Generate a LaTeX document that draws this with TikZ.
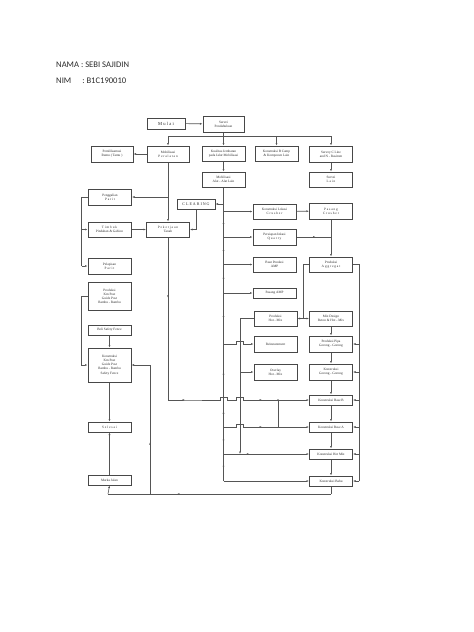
\documentclass[tikz,border=0pt]{standalone}
\usepackage{fontspec}
\setmainfont{Liberation Serif}
\newfontfamily\hdrfont{Carlito}
\usetikzlibrary{arrows.meta,decorations.markings}
\definecolor{boxc}{HTML}{484848}
\definecolor{linec}{HTML}{555555}
\definecolor{txtc}{HTML}{2A2A2A}
\begin{document}
\begin{tikzpicture}[x=1pt,y=-1pt,
  box/.style={draw=boxc, line width=1pt, fill=white, inner sep=0pt, align=center,
    minimum width=43pt, minimum height=15pt, font=\fontsize{3.4}{4.1}\selectfont, text=txtc},
  sbox/.style={box, minimum height=10pt},
  ln/.style={draw=linec, line width=0.6pt},
  arr/.style={ln, -{Latex[length=2.5pt,width=2pt]}},
  midarr/.style={postaction={decorate}, decoration={markings,
     mark=at position #1 with {\arrow{Latex[length=2.3pt,width=1.9pt]}}}},
  hdr/.style={anchor=west, inner sep=0pt, font=\hdrfont\fontsize{8.6}{10}\selectfont, text=txtc},
]
\fill[white] (0,0) rectangle (474,632);
\useasboundingbox (0,0) rectangle (474,632);

% header
\node[hdr] (nama) at (56,65) {NAMA : SEBI SAJIDIN};
\node[hdr] (nim) at (56,81) {NIM\hspace{11pt}: B1C190010};

% boxes
\node[box, minimum width=38pt, minimum height=11pt, font=\fontsize{4.6}{5}\selectfont] (mulai) at (166,123.5) {M u l a i};
\node[box, minimum width=41pt, minimum height=16pt] (survei) at (223.5,124) {Survei\\Pendahuluan};
\node[box, minimum width=42pt, minimum height=16pt] (pemilik) at (112,154) {Pemilikantusi\\Rumu ( Tamu )};
\node[box, minimum width=42pt, minimum height=16pt] (mobper) at (168,154) {Mobilisasi\\P e r a l a t a n};
\node[box] (kualitas) at (223.5,153.5) {Kualitas Jembatan\\pada Jalur Mobilisasi};
\node[box] (bcamp) at (276.5,153.5) {Konstruksi B Camp\\\& Komponen Lain};
\node[box, minimum height=16pt] (surveyc) at (331,154) {Survey C Line\\and N - Rasitom};
\node[box] (mobalat) at (223.5,179.5) {Mobilisasi\\Alat - Alat Lain};
\node[box] (surveil) at (331,179.5) {Survei\\L a i n};
\node[box, minimum height=16pt] (penggalian) at (110,197) {Penggalian\\P a r i t};
\node[sbox, minimum width=38pt, font=\fontsize{4}{5}\selectfont] (clearing) at (196,204) {C L E A R I N G};
\node[box] (klokasi) at (274.5,211.5) {Konstruksi Lokasi\\C r u s h e r};
\node[box, minimum height=16pt] (pasang) at (331,211) {P a s a n g\\C r u s h e r};
\node[box] (timbuk) at (109.5,229.5) {T i m b u k\\Pindahan \& Gabion};
\node[box] (pektanah) at (168,229.5) {P e k e r j a a n\\Tanah};
\node[box, minimum height=16pt] (quarry) at (274.5,237) {Persiapan Inkasi\\Q u a r r y};
\node[box, minimum height=16pt] (pelapisan) at (109.5,266) {Pelapisan\\P a r i t};
\node[box] (pondasi) at (274.5,264.5) {Buat Pondasi\\AMP};
\node[box] (aggregat) at (331,264.5) {Produksi\\A g g r e g a t};
\node[box, minimum height=28pt] (prodkm) at (109.5,296) {Produksi\\Km Post\\Guide Post\\Rambu - Rambu};
\node[sbox] (amp) at (274.5,293) {Pasang AMP};
\node[box] (prodhot) at (275.5,318.5) {Produksi\\Hot - Mix};
\node[box] (mixdesign) at (331,318.5) {Mix Design\\Beton \& Hot - Mix};
\node[sbox] (beli) at (109.5,330) {Beli Safety Fence};
\node[box, minimum height=16pt] (reinst) at (275.5,344) {Reinstatement};
\node[box, minimum height=16pt] (pipa) at (331,344) {Produksi Pipa\\Gorong - Gorong};
\node[box, minimum height=34pt] (konkm) at (109.5,365) {Konstruksi\\Km Post\\Guide Post\\Rambu - Rambu\\Safety Fence};
\node[box, minimum height=16pt] (overlay) at (275.5,372) {Overlay\\Hot - Mix};
\node[box, minimum height=16pt] (kongorong) at (331,372) {Konstruksi\\Gorong - Gorong};
\node[sbox] (baseb) at (331,400) {Konstruksi Base B};
\node[sbox] (selesai) at (109.5,427) {S e l e s a i};
\node[sbox] (basea) at (331,427) {Konstruksi Base A};
\node[sbox] (kinhot) at (331,454) {Konstruksi Hot Mix};
\node[sbox] (marka) at (109.5,480) {Marka Jalan};
\node[sbox] (bahu) at (331,481) {Konstruksi Bahu};

% junction coordinates
\coordinate (h1) at (223.5,136.5);
\coordinate (j1) at (168,197);
\coordinate (l1) at (81.5,197);
\coordinate (l2) at (81.5,229.5);
\coordinate (l3) at (81.5,266);
\coordinate (v0) at (223.5,481);
\coordinate (q1) at (331,237);
\coordinate (a1) at (303,264.5);
\coordinate (a2) at (303,318.5);
\coordinate (r1) at (359,264.5);
\coordinate (r2) at (359,481);
\coordinate (p1) at (240,318.5);
\coordinate (p2) at (240,454);
\coordinate (t1) at (168,400);
\coordinate (jb) at (278,400);
\coordinate (ja) at (278,427);
\coordinate (b1) at (331,494);
\coordinate (b2) at (108,494);
\coordinate (b3) at (150,494);
\coordinate (k1) at (150,365);
\coordinate (k0) at (81,296);
\coordinate (k2) at (81,365);

% top
\draw[arr] (mulai) -- (survei);
\draw[ln] (survei.south) -- (h1);
\draw[arr] (h1) -| (mobper.north);
\draw[arr] (h1) -- (kualitas.north);
\draw[arr] (h1) -| (bcamp.north);
\draw[arr] (h1) -| (surveyc.north);
\draw[arr] (mobper) -- (pemilik);
\draw[arr] (kualitas) -- (mobalat);
\draw[arr] (surveyc) -- (surveil);

% left group
\draw[arr] (mobper.south) -- (pektanah.north);
\draw[arr] (j1) -- (penggalian.east);
\draw[ln] (penggalian.west) -- (l1) -- (l3);
\draw[arr] (l2) -- (timbuk.west);
\draw[arr] (l3) -- (pelapisan.west);
\draw[arr] (timbuk) -- (pektanah);
\draw[arr] (clearing.south) |- (pektanah.east);

% main vertical x=223.5
\draw[ln, postaction={decorate}, decoration={markings,
   mark=at position 0.129 with {\arrow{Latex[length=2.3pt,width=1.9pt]}},
   mark=at position 0.221 with {\arrow{Latex[length=2.3pt,width=1.9pt]}},
   mark=at position 0.316 with {\arrow{Latex[length=2.3pt,width=1.9pt]}},
   mark=at position 0.446 with {\arrow{Latex[length=2.3pt,width=1.9pt]}},
   mark=at position 0.643 with {\arrow{Latex[length=2.3pt,width=1.9pt]}},
   mark=at position 0.776 with {\arrow{Latex[length=2.3pt,width=1.9pt]}},
   mark=at position 0.867 with {\arrow{Latex[length=2.3pt,width=1.9pt]}},
   mark=at position 0.956 with {\arrow{Latex[length=2.3pt,width=1.9pt]}}}]
   (mobalat.south) -- (v0);
\draw[arr] (v0) -- (bahu.west);
\coordinate (m1) at (223.5,204);
\coordinate (m2) at (223.5,211.5);
\coordinate (m3) at (223.5,237);
\coordinate (m4) at (223.5,264.5);
\coordinate (m5) at (223.5,293);
\coordinate (m6) at (223.5,344);
\coordinate (m7) at (223.5,427);
\coordinate (m8) at (223.5,454);
\draw[arr] (m1) -- (clearing.east);
\draw[arr] (m2) -- (klokasi.west);
\draw[arr] (m3) -- (quarry.west);
\draw[arr] (m4) -- (pondasi.west);
\draw[arr] (m5) -- (amp.west);
\draw[arr] (m6) -- (236.5,344) -- (236.5,341) -- (243.5,341) -- (243.5,344) -- (reinst.west);
\draw[arr, midarr=0.3] (m8) -- (kinhot.west);

% crusher / aggregat
\draw[arr] (klokasi) -- (pasang);
\draw[arr] (pasang) -- (aggregat);
\draw[ln, midarr=0.55] (quarry.east) -- (q1);
\draw[ln] (aggregat.west) -- (a1) -- (a2);
\draw[arr] (a2) -- (prodhot.east);
\draw[arr] (a2) -- (mixdesign.west);
\draw[ln] (aggregat.east) -- (r1) -- (r2);
\draw[arr] (359,344) -- (pipa.east);
\draw[arr] (359,372) -- (kongorong.east);
\draw[arr] (359,400) -- (baseb.east);
\draw[arr] (359,427) -- (basea.east);
\draw[arr] (359,454) -- (kinhot.east);
\draw[arr] (r2) -- (bahu.east);

% right column chain
\draw[arr] (mixdesign) -- (pipa);
\draw[arr] (pipa) -- (kongorong);
\draw[arr] (kongorong) -- (baseb);
\draw[arr] (baseb) -- (basea);
\draw[arr] (basea) -- (kinhot);
\draw[arr] (kinhot) -- (bahu);

% hot-mix branch
\draw[ln] (prodhot.west) -- (p1);
\draw[arr] (p1) -- (p2);
\draw[arr] (240,372) -- (overlay.west);

% pekerjaan tanah line to base B with hops
\draw[ln, midarr=0.37] (pektanah.south) -- (t1);
\draw[arr] (t1) -- (184,400) -- (220,400) -- (220,397) -- (227,397) -- (227,400)
   -- (236.5,400) -- (236.5,397) -- (243.5,397) -- (243.5,400) -- (baseb.west);
\draw[ln, -{Latex[length=2.3pt,width=1.9pt]}] (t1) -- (185,400);
\draw[ln, -{Latex[length=2.3pt,width=1.9pt]}] (243.5,400) -- (262,400);
\fill[linec] (jb) circle (1pt);
\draw[ln] (jb) -- (ja);
\draw[arr] (m7) -- (236.5,427) -- (236.5,424) -- (243.5,424) -- (243.5,427) -- (basea.west);
\draw[ln, -{Latex[length=2.3pt,width=1.9pt]}] (243.5,427) -- (262,427);

% bottom return
\draw[ln] (bahu.south) -- (b1);
\draw[ln, midarr=0.69] (b1) -- (b2);
\draw[arr] (b2) -- (marka.south);
\draw[ln, midarr=0.4] (b3) -- (k1);
\draw[arr] (k1) -- (konkm.east);

% left bottom
\draw[arr] (marka) -- (selesai);
\draw[arr] (konkm) -- (selesai);
\draw[arr] (beli) -- (konkm);
\draw[ln] (prodkm.west) -- (k0) -- (k2);
\draw[arr] (k2) -- (konkm.west);
\end{tikzpicture}
\end{document}
